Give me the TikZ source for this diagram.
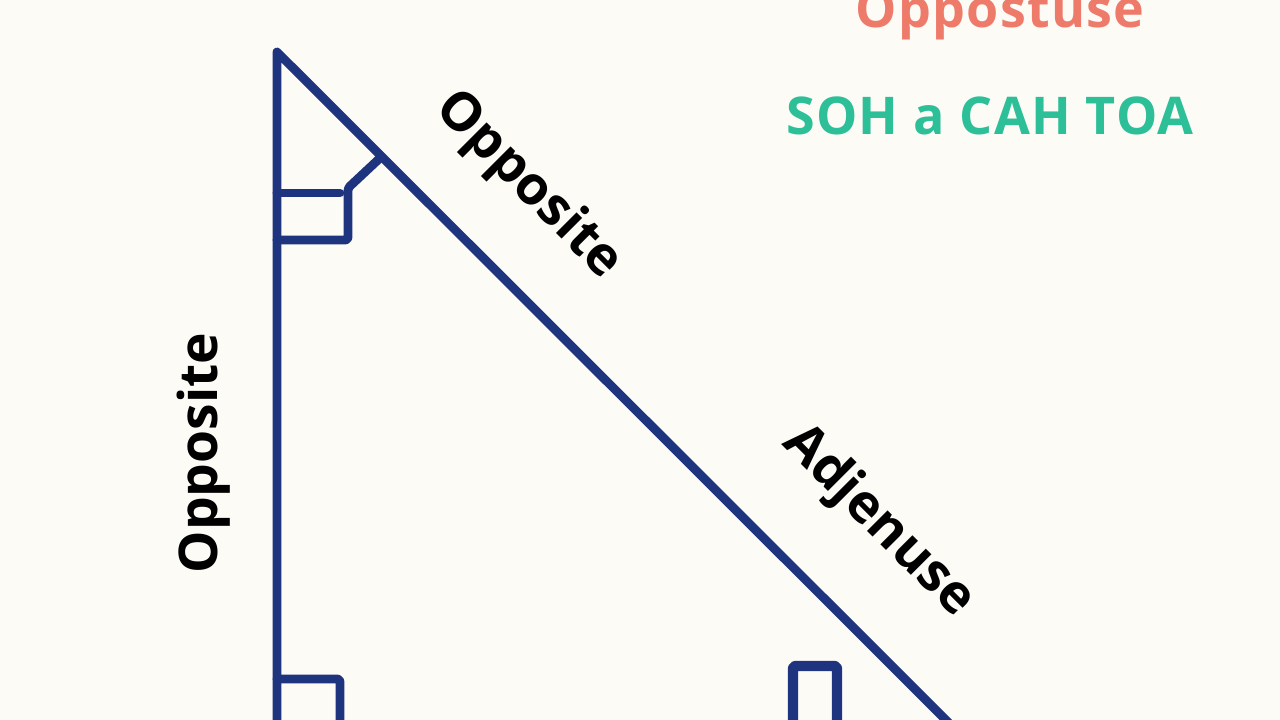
\documentclass[tikz,border=0pt]{standalone}
\usepackage{fontspec}
\setmainfont{Open Sans}
\definecolor{bgc}{HTML}{FDFBF6}
\definecolor{navy}{HTML}{1E347F}
\definecolor{salmon}{HTML}{EE7A6A}
\definecolor{teal}{HTML}{2DBF98}
\tikzset{
  side/.style={draw=navy, line width=6.6pt, line join=round, line cap=round},
  anglemark/.style={draw=navy, line width=6.6pt, line join=round, line cap=round, rounded corners=2pt},
  lbl/.style={text=black, font=\bfseries\fontsize{40}{48}\selectfont, inner sep=0pt},
  ttl/.style={font=\bfseries\fontsize{39}{46}\selectfont\addfontfeatures{LetterSpace=2.5}, inner sep=0pt, anchor=base}
}
\begin{document}
\begin{tikzpicture}[x=0.75pt,y=-0.75pt]
\useasboundingbox (0,0) rectangle (1280,720);
\fill[bgc] (0,0) rectangle (1280,720);
\clip (0,0) rectangle (1280,720);
% vertices
\coordinate (A) at (277,52);
\coordinate (B) at (277,760);
\coordinate (C) at (986,760);
\draw[side] (B) -- (A) -- (C);
% angle mark at top
\coordinate (m1) at (277,193);
\coordinate (m2) at (340,193);
\coordinate (m3) at (379,159);
\coordinate (m4) at (348,188);
\coordinate (m5) at (348,240);
\coordinate (m6) at (277,240);
\draw[anglemark] (m1) -- (m2);
\draw[anglemark] (m3) -- (m4) -- (m5) -- (m6);
% bottom left right-angle mark
\coordinate (b1) at (277,679);
\coordinate (b2) at (340,679);
\coordinate (b3) at (340,740);
\draw[anglemark] (b1) -- (b2) -- (b3);
% bottom right mark
\coordinate (r1) at (793,740);
\coordinate (r2) at (793,666);
\coordinate (r3) at (837,666);
\coordinate (r4) at (837,740);
\draw[anglemark, line width=7.8pt] (r1) -- (r2) -- (r3) -- (r4);
% labels
\node[lbl, rotate=90] (opv) at (204,453) {Opposite};
\node[lbl, rotate=-45] (opd) at (528,186) {Opposite};
\node[lbl, rotate=-45] (adj) at (878,522) {Adjenuse};
\node[ttl, text=salmon] (t1) at (1000,28) {Oppostuse};
\node[ttl, text=teal] (t2) at (990,135) {SOH a CAH TOA};
\end{tikzpicture}
\end{document}
